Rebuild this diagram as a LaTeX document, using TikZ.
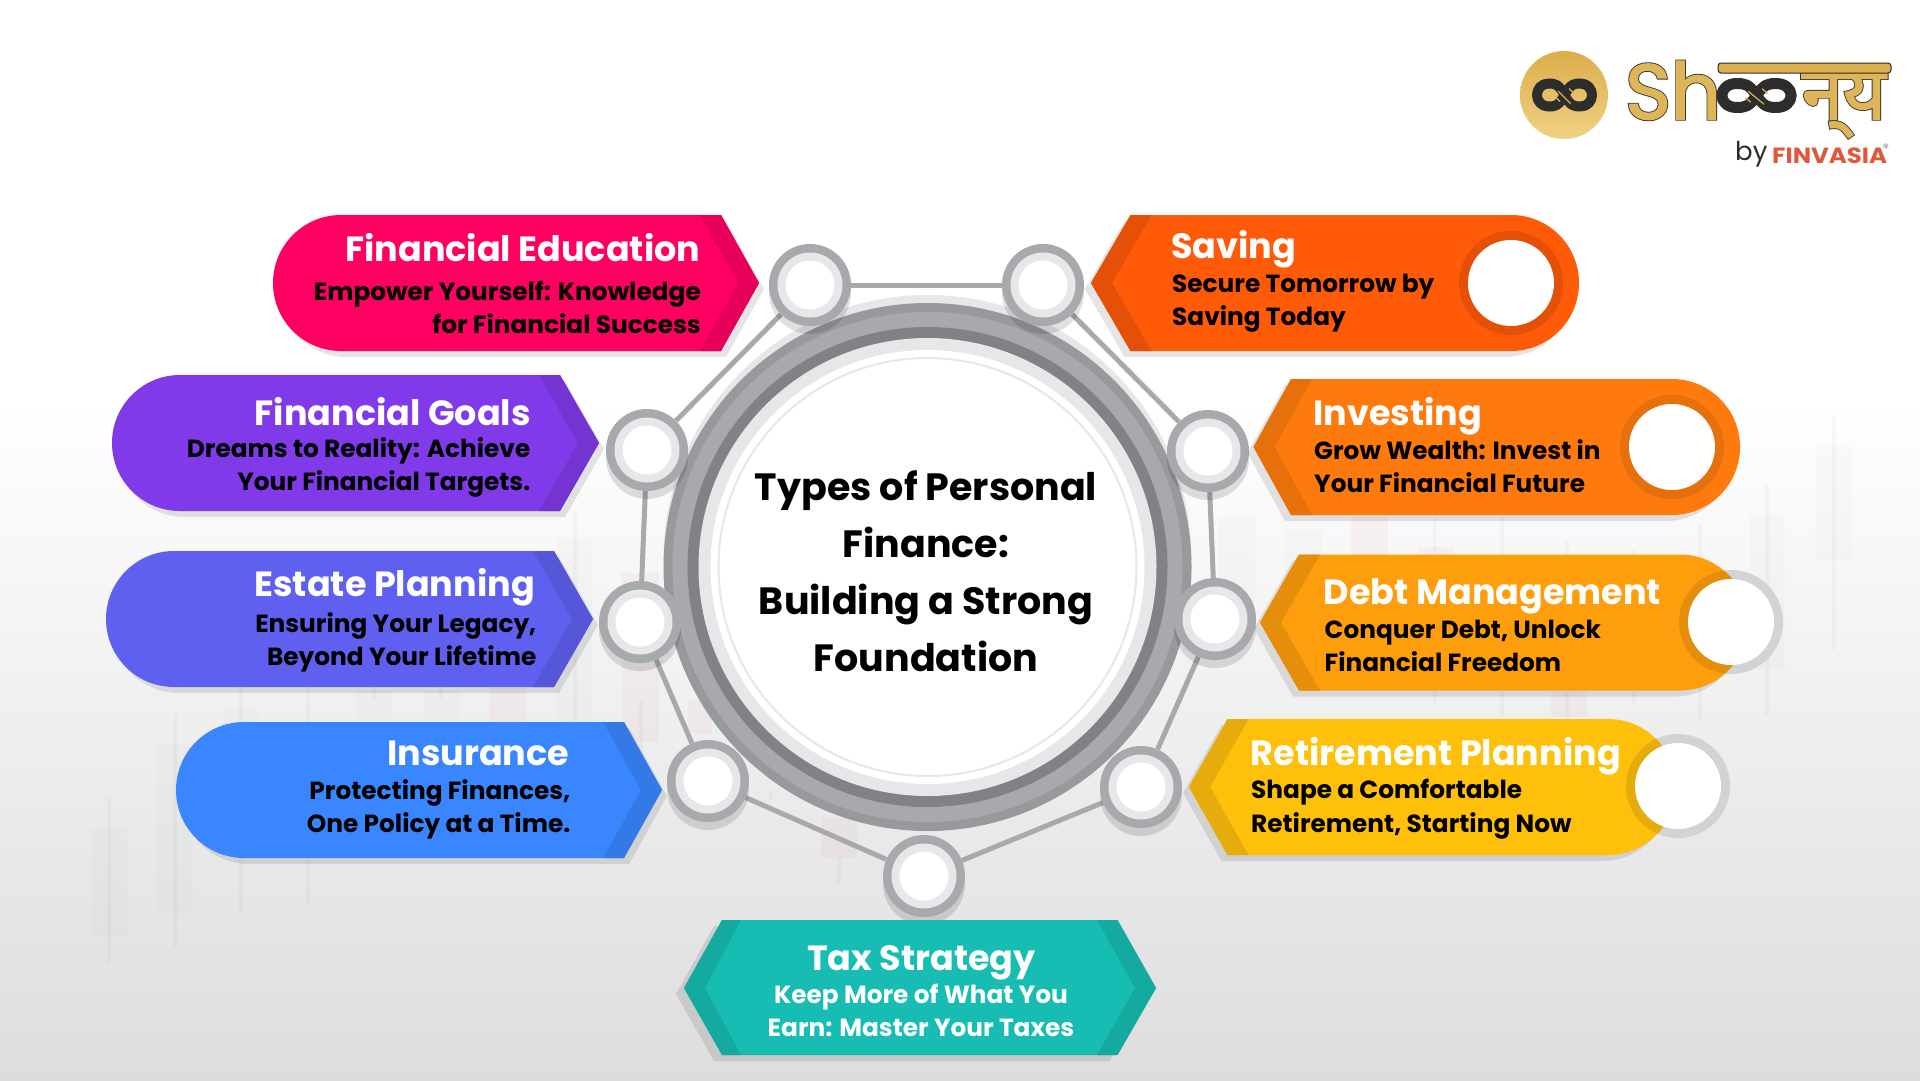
\documentclass[tikz,border=0pt]{standalone}
\usepackage{fontspec}
\usepackage{graphicx}
\setmainfont{Poppins}
\newfontfamily\devfont[Script=Devanagari]{Noto Sans}
\pgfdeclarelayer{back}\pgfdeclarelayer{lines}\pgfsetlayers{back,lines,main}
\definecolor{ringa}{HTML}{A8A9AC}
\definecolor{ringb}{HTML}{98999C}
\definecolor{ringc}{HTML}{808285}
\definecolor{ringl}{HTML}{E6E7E8}
\definecolor{halo}{HTML}{D1D3D4}
\definecolor{bgb}{HTML}{DDDDDE}
\definecolor{ca}{HTML}{FF0062}\definecolor{cab}{HTML}{E6005A}
\definecolor{cb}{HTML}{803AE9}\definecolor{cbb}{HTML}{7434D1}
\definecolor{cc}{HTML}{6060F0}\definecolor{ccb}{HTML}{5656D8}
\definecolor{cd}{HTML}{3A86FF}\definecolor{cdb}{HTML}{347AE6}
\definecolor{ce}{HTML}{FF5A08}\definecolor{ceb}{HTML}{E55008}
\definecolor{cf}{HTML}{FF7A0C}\definecolor{cfb}{HTML}{E5700C}
\definecolor{cg}{HTML}{FF9E0C}\definecolor{cgb}{HTML}{E58E0B}
\definecolor{ch}{HTML}{FFC00C}\definecolor{chb}{HTML}{E5AC0C}
\definecolor{ci}{HTML}{17BDB2}\definecolor{cib}{HTML}{15AAA0}
\definecolor{golda}{HTML}{DCAE4C}
\definecolor{goldb}{HTML}{F0D183}
\definecolor{logod}{HTML}{2D2D2D}
\definecolor{logor}{HTML}{E0583C}
\definecolor{candt}{RGB}{0,120,120}
\definecolor{candr}{RGB}{190,40,40}
\tikzset{
 x=1pt,y=-1pt,
 ringouter/.style={circle,fill=ringa,minimum size=82pt,inner sep=0pt},
 ringmid/.style={circle,fill=ringl,minimum size=65pt,inner sep=0pt},
 ringin/.style={circle,fill=white,minimum size=49pt,inner sep=0pt},
 conn/.style={draw=ringa,line width=5pt},
 shad/.style={fill=black,opacity=.1},
 ttl/.style={inner sep=0pt,font=\fontsize{35}{35}\selectfont\bfseries},
 sub/.style={inner sep=0pt,font=\fontsize{24.8}{24.8}\selectfont\bfseries},
 ctr/.style={inner sep=0pt,font=\fontsize{38}{38}\selectfont\bfseries},
 wick/.style={draw=black,opacity=.025,line width=4pt},
}
% pill on the left, point on the right
\def\lpath#1#2#3#4{({#1+68},#2) -- (#3,#2) -- (#4,{#2+68}) -- (#3,{#2+136}) -- ({#1+68},{#2+136}) .. controls ({#1+30.4},{#2+136}) and (#1,{#2+105.6}) .. (#1,{#2+68}) .. controls (#1,{#2+30.4}) and ({#1+30.4},#2) .. ({#1+68},#2) -- cycle}
% pill on the right, point on the left; #1 = centre of the round end
\def\rpath#1#2#3#4{(#1,#2) -- (#3,#2) -- (#4,{#2+68}) -- (#3,{#2+136}) -- (#1,{#2+136}) .. controls ({#1+37.6},{#2+136}) and ({#1+68},{#2+105.6}) .. ({#1+68},{#2+68}) .. controls ({#1+68},{#2+30.4}) and ({#1+37.6},#2) .. (#1,#2) -- cycle}
\newcommand\lbanner[6]{% left top shoulder tip col band
 \fill[shad,xshift=5pt,yshift=-6pt] \lpath{#1}{#2}{#3}{#4};
 \fill[#5] \lpath{#1}{#2}{#3}{#4};
 \fill[#6] ({#3-21},#2) -- (#3,#2) -- (#4,{#2+68}) -- (#3,{#2+136}) -- ({#3-21},{#2+136}) -- ({#4-21},{#2+68}) -- cycle;
}
\newcommand\rbanner[6]{% rcentre top shoulder tip col band
 \fill[shad,xshift=-6pt,yshift=-6pt] \rpath{#1}{#2}{#3}{#4};
 \fill[#5] \rpath{#1}{#2}{#3}{#4};
 \fill[#6] ({#3+21},#2) -- (#3,#2) -- (#4,{#2+68}) -- (#3,{#2+136}) -- ({#3+21},{#2+136}) -- ({#4+21},{#2+68}) -- cycle;
}
\newcommand\smallring[3]{% name x y
 \fill[black,opacity=.12] (#2,{#3+8}) circle[radius=41pt];
 \node[ringouter] (#1) at (#2,#3) {};
 \node[ringmid] (#1m) at (#2,#3) {};
 \node[ringin] (#1i) at (#2,#3) {};
}
\newcommand\infsym[5]{% x y xscale yscale width
 \begin{scope}[shift={(#1,#2)},xscale=#3,yscale=#4]
 \draw[logod,line width=#5,line join=round] (0,0) .. controls (6,-11.5) and (10,-11.5) .. (16,-11.5) .. controls (23,-11.5) and (27.5,-6) .. (27.5,0) .. controls (27.5,6) and (23,11.5) .. (16,11.5) .. controls (10,11.5) and (6,11.5) .. (0,0) .. controls (-6,-11.5) and (-10,-11.5) .. (-16,-11.5) .. controls (-23,-11.5) and (-27.5,-6) .. (-27.5,0) .. controls (-27.5,6) and (-23,11.5) .. (-16,11.5) .. controls (-10,11.5) and (-6,11.5) .. (0,0) -- cycle;
 \draw[golda,line width=1.2pt] (-6.5,-4) -- (6,8.5) (-9,2) -- (-4.5,6.5) (4.5,-6.5) -- (9,-2);
 \end{scope}
}
\newcommand\goldout[1]{\rlap{\special{pdf:code 2 Tr 3.4 w 0.22 0.22 0.22 RG 0.22 0.22 0.22 rg}#1}\special{pdf:code 2 Tr 1.6 w 0.87 0.71 0.34 RG 0.87 0.71 0.34 rg}#1\special{pdf:code 0 Tr 0 0 0 rg 0 0 0 RG}}
\begin{document}
\begin{tikzpicture}
\useasboundingbox (0,0) rectangle (1920,1080);
\begin{pgfonlayer}{back}
\fill[white] (0,0) rectangle (1920,400);
\shade[top color=white,bottom color=bgb] (0,400) rectangle (1920,1080);
% faint candlesticks in the background
\foreach \xa/\ya/\yb in {109/798/963,175/713/948,241/680/913,308/680/905,374/680/700,441/680/700,575/510/740,641/700/767,839/858/883,771/790/800,1435/500/705,1502/515/717,1567/540/730,1634/550/705,1700/525/720,1767/485/717,1834/415/650}
 \draw[wick] (\xa,\ya) -- (\xa,\yb);
\foreach \xa/\ya/\xb/\yb in {91/828/127/936,157/744/193/913,223/710/259/760,356/690/393/720,423/690/459/720,556/538/592/722,1218/518/1255/613,1285/530/1322/620,1750/515/1785/670,1815/445/1852/560}
 \fill[candt,opacity=.02] (\xa,\ya) rectangle (\xb,\yb);
\foreach \xa/\ya/\xb/\yb in {489/687/526/722,622/573/659/742,821/818/857/858,688/700/712/733,1351/515/1388/555,1418/547/1454/555,1551/690/1587/717}
 \fill[candr,opacity=.04] (\xa,\ya) rectangle (\xb,\yb);
% central dial
\fill[ringl] (927.5,559) circle[radius=264pt];
\fill[ringb] (927.5,567) circle[radius=264pt];
\fill[ringa] (927.5,567) circle[radius=255pt];
\fill[ringc] (927.5,567) circle[radius=240pt];
\fill[ringl] (927.5,567) circle[radius=229pt];
\fill[white] (927.5,567) circle[radius=217pt];
\draw[ringl,line width=2pt] (927.5,567) circle[radius=209pt];
\end{pgfonlayer}
% small rings and their connectors
\smallring{r1}{810}{285}
\smallring{r2}{1043}{285}
\smallring{r3}{1208}{451}
\smallring{r4}{1215}{619}
\smallring{r5}{1141}{787}
\smallring{r6}{924}{876}
\smallring{r7}{708}{781}
\smallring{r8}{640}{622}
\smallring{r9}{647}{450}
\begin{pgfonlayer}{lines}
\draw[conn] (r1) -- (r2);
\draw[conn] (r2) -- (r3);
\draw[conn] (r3) -- (r4);
\draw[conn] (r4) -- (r5);
\draw[conn] (r5) -- (r6);
\draw[conn] (r6) -- (r7);
\draw[conn] (r7) -- (r8);
\draw[conn] (r8) -- (r9);
\draw[conn] (r9) -- (r1);
\end{pgfonlayer}
% left banners
\lbanner{273}{215}{721}{759}{ca}{cab}
\lbanner{112}{375}{560}{599}{cb}{cbb}
\lbanner{106}{551}{554}{593}{cc}{ccb}
\lbanner{176}{722}{624}{662}{cd}{cdb}
% right banners
\rbanner{1511}{215}{1130.5}{1091}{ce}{ceb}
\fill[ceb] (1511,283) circle[radius=52pt];
\fill[white] (1511,283) circle[radius=43pt];
\rbanner{1672}{379}{1291}{1253.5}{cf}{cfb}
\fill[cfb] (1672,447) circle[radius=52pt];
\fill[white] (1672,447) circle[radius=43pt];
\fill[halo] (1731,622) circle[radius=52pt];
\rbanner{1680}{554.5}{1299}{1260}{cg}{cgb}
\begin{scope}\clip \rpath{1680}{554.5}{1299}{1260};\fill[cgb] (1731,622) circle[radius=52pt];\end{scope}
\fill[white] (1731,622) circle[radius=43pt];
\fill[halo] (1678,786) circle[radius=52pt];
\rbanner{1608}{719}{1227.5}{1189}{ch}{chb}
\begin{scope}\clip \rpath{1608}{719}{1227.5}{1189};\fill[chb] (1678,786) circle[radius=52pt];\end{scope}
\fill[white] (1678,786) circle[radius=43pt];
% tax banner
\fill[shad,xshift=-8pt,yshift=-6pt] (722,920) -- (1117.5,920) -- (1156,988) -- (1117.5,1055) -- (722,1055) -- (684,988) -- cycle;
\fill[ci] (722,920) -- (1117.5,920) -- (1156,988) -- (1117.5,1055) -- (722,1055) -- (684,988) -- cycle;
\fill[cib] (722,920) -- (741,920) -- (705,988) -- (741,1055) -- (722,1055) -- (684,988) -- cycle;
\fill[cib] (1117.5,920) -- (1097,920) -- (1135,988) -- (1097,1055) -- (1117.5,1055) -- (1156,988) -- cycle;
% texts
\node[ttl,white,anchor=base east] (t1) at (700.5,261.5) {Financial Education};
\node[sub,anchor=base east] (t1a) at (701,300) {Empower Yourself: Knowledge};
\node[sub,anchor=base east] (t1b) at (701,333) {for Financial Success};
\node[ttl,white,anchor=base east] (t2) at (531,425) {Financial Goals};
\node[sub,anchor=base east] (t2a) at (530.5,457) {Dreams to Reality: Achieve};
\node[sub,anchor=base east] (t2b) at (530.5,490) {Your Financial Targets.};
\node[ttl,white,anchor=base east] (t3) at (535,596.5) {Estate Planning};
\node[sub,anchor=base east] (t3a) at (536.5,632) {Ensuring Your Legacy,};
\node[sub,anchor=base east] (t3b) at (536.5,665) {Beyond Your Lifetime};
\node[ttl,white,anchor=base east] (t4) at (569.5,765) {Insurance};
\node[sub,anchor=base east] (t4a) at (570.5,799) {Protecting Finances,};
\node[sub,anchor=base east] (t4b) at (570.5,832) {One Policy at a Time.};
\node[ttl,white,anchor=base west] (t5) at (1171,258) {Saving};
\node[sub,anchor=base west] (t5a) at (1172,292) {Secure Tomorrow by};
\node[sub,anchor=base west] (t5b) at (1172,325) {Saving Today};
\node[ttl,white,anchor=base west] (t6) at (1313,425) {Investing};
\node[sub,anchor=base west] (t6a) at (1314,459) {Grow Wealth: Invest in};
\node[sub,anchor=base west] (t6b) at (1314,492) {Your Financial Future};
\node[ttl,white,anchor=base west] (t7) at (1323.5,604) {Debt Management};
\node[sub,anchor=base west] (t7a) at (1324.5,638) {Conquer Debt, Unlock};
\node[sub,anchor=base west] (t7b) at (1324.5,671) {Financial Freedom};
\node[ttl,white,anchor=base west] (t8) at (1250.5,765) {Retirement Planning};
\node[sub,anchor=base west] (t8a) at (1251,798.5) {Shape a Comfortable};
\node[sub,anchor=base west] (t8b) at (1251,832) {Retirement, Starting Now};
\node[ttl,white,anchor=base] (t9) at (921.5,970) {Tax Strategy};
\node[sub,white,anchor=base] (t9a) at (921,1003) {Keep More of What You};
\node[sub,white,anchor=base] (t9b) at (921,1036) {Earn: Master Your Taxes};
\node[ctr,anchor=base] (c1) at (926,500.5) {Types of Personal};
\node[ctr,anchor=base] (c2) at (926,557) {Finance:};
\node[ctr,anchor=base] (c3) at (926,614) {Building a Strong};
\node[ctr,anchor=base] (c4) at (926,671) {Foundation};
% logo
\shade[top color=golda,bottom color=goldb] (1564,95) circle[radius=44pt];
\infsym{1564.5}{95}{1}{1}{10pt}
\node[inner sep=0pt,anchor=base west] (l1) at (1625,119) {\fontsize{78}{78}\selectfont\goldout{Sh}};
\infsym{1756.5}{95.5}{1.26}{1.04}{11pt}
\node[inner sep=0pt,anchor=base east] (l2) at (1886,119) {\fontsize{74}{74}\selectfont\devfont\goldout{न्‌य}};
\fill[golda,draw=logod,line width=1pt,rounded corners=3pt] (1718,63) rectangle (1891,73);
\node[inner sep=0pt,anchor=base west,text=logod] (l3) at (1735,160.5) {\fontsize{26}{26}\selectfont by};
\node[inner sep=0pt,anchor=base west,text=logor] (l4) at (1772,163) {\scalebox{1.11}[1]{\fontsize{22}{22}\selectfont\bfseries FINVASIA}};
\node[inner sep=0pt,text=black!50] (l5) at (1886,148) {\fontsize{12}{12}\selectfont ®};
\end{tikzpicture}
\end{document}
